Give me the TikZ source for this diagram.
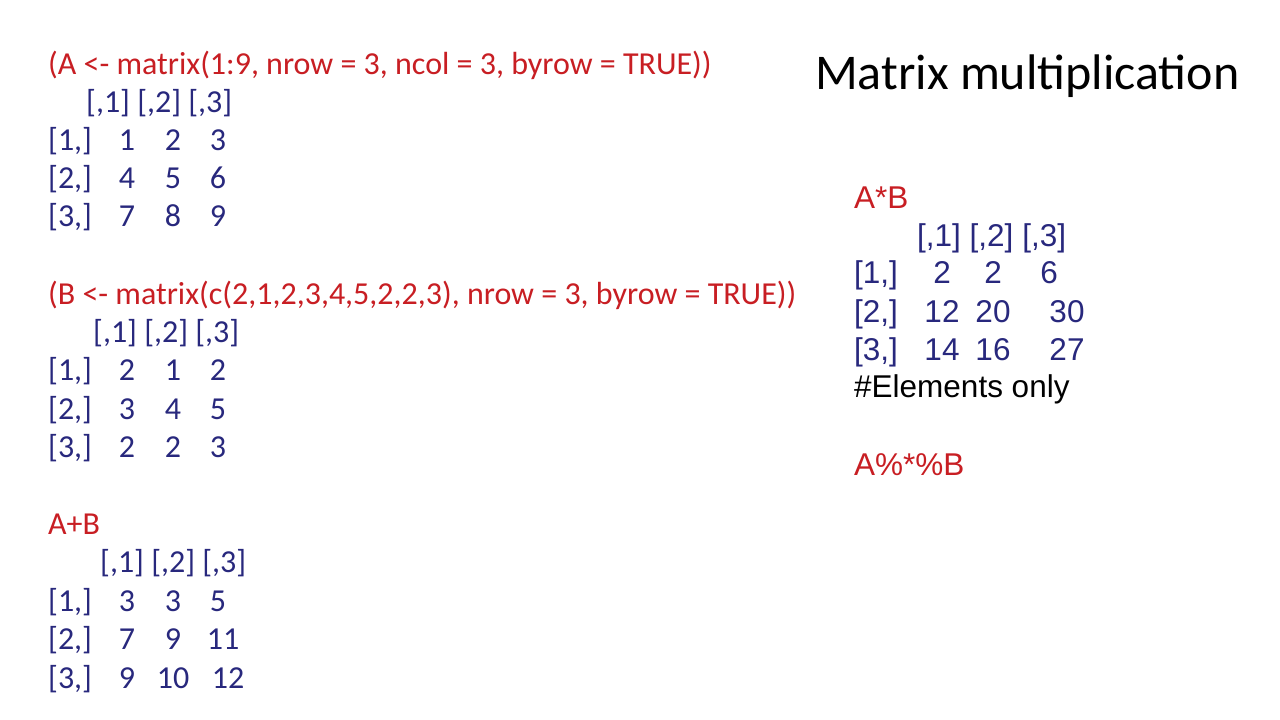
\documentclass[tikz,border=0pt]{standalone}
\usepackage{fontspec}
\setmainfont{Carlito}
\newfontfamily\arialf{Liberation Sans}
\definecolor{rcode}{RGB}{200,30,35}
\definecolor{bout}{RGB}{40,40,125}
\begin{document}
\begin{tikzpicture}[x=1pt,y=-1pt,
  every node/.style={inner sep=0pt},
  lt/.style={font=\fontsize{32}{36}\selectfont},
  rt/.style={font=\arialf\fontsize{31.5}{36}\selectfont},
  code/.style={lt,text=rcode,anchor=base west},
  outtxt/.style={lt,text=bout,anchor=base west},
  num/.style={lt,text=bout,anchor=base},
  rcodes/.style={rt,text=rcode,anchor=base west},
  rout/.style={rt,text=bout,anchor=base west},
  rnum/.style={rt,text=bout,anchor=base}]
\fill[white] (0,0) rectangle (1280,720);
\useasboundingbox (0,0) rectangle (1280,720);
% title
\node[font=\fontsize{50}{56}\selectfont,anchor=base west] (title) at (815,89) {Matrix multiplication};
% A
\node[code] (ca) at (48,74) {(A <- matrix(1:9, nrow = 3, ncol = 3, byrow = TRUE))};
\node[outtxt] (ha) at (86,112) {[,1] [,2] [,3]};
\foreach \r/\y/\a/\b/\c in {1/150/1/2/3,2/188/4/5/6,3/226/7/8/9}{
  \node[outtxt] (ar\r) at (48,\y) {[\r,]};
  \node[num] (a\r1) at (127,\y) {\a};
  \node[num] (a\r2) at (173,\y) {\b};
  \node[num] (a\r3) at (218,\y) {\c};}
% B
\node[code] (cb) at (48,304) {(B <- matrix(c(2,1,2,3,4,5,2,2,3), nrow = 3, byrow = TRUE))};
\node[outtxt] (hb) at (93,342) {[,1] [,2] [,3]};
\foreach \r/\y/\a/\b/\c in {1/380/2/1/2,2/419/3/4/5,3/457/2/2/3}{
  \node[outtxt] (br\r) at (48,\y) {[\r,]};
  \node[num] (b\r1) at (127,\y) {\a};
  \node[num] (b\r2) at (173,\y) {\b};
  \node[num] (b\r3) at (218,\y) {\c};}
% A+B
\node[code] (cs) at (48,534) {A+B};
\node[outtxt] (hs) at (100,572) {[,1] [,2] [,3]};
\foreach \r/\y/\a/\b/\c/\cx in {1/611/3/3/5/218,2/649/7/9/11/223,3/688/9/10/12/228}{
  \node[outtxt] (sr\r) at (48,\y) {[\r,]};
  \node[num] (s\r1) at (127,\y) {\a};
  \node[num] (s\r2) at (173,\y) {\b};
  \node[num] (s\r3) at (\cx,\y) {\c};}
% A*B
\node[rcodes] (cm) at (854,208) {A*B};
\node[rout] (hm) at (917,246) {[,1] [,2] [,3]};
\foreach \r/\y/\a/\b/\c/\cx in {1/283/2/2/6/1049,2/322/12/20/30/1067,3/360/14/16/27/1067}{
  \node[rout] (mr\r) at (854,\y) {[\r,]};
  \node[rnum] (m\r1) at (942,\y) {\a};
  \node[rnum] (m\r2) at (993,\y) {\b};
  \node[rnum] (m\r3) at (\cx,\y) {\c};}
\node[rt,anchor=base west] (el) at (854,397) {\#Elements only};
\node[rcodes] (cp) at (854,475) {A\%*\%B};
\end{tikzpicture}
\end{document}
